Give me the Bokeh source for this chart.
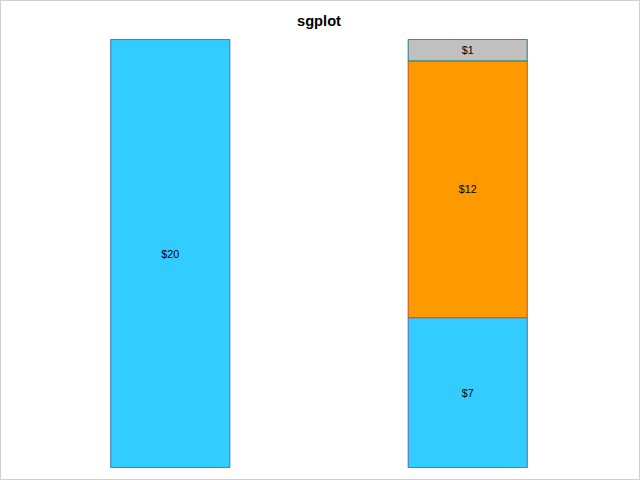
from bokeh.plotting import figure
from bokeh.models import ColumnDataSource, FactorRange, Range1d, LabelSet
from bokeh.core.properties import value
from bokeh.embed import file_html
from bokeh.resources import INLINE

# ---- data ----
categories = ["Total", "Breakdown"]
segments = ["seg1", "seg2", "seg3"]
values = {
    "seg1": [20, 7],
    "seg2": [0, 12],
    "seg3": [0, 1],
}
fill_colors = ["#33CCFF", "#FF9900", "#C0C0C0"]
line_colors = ["#4F7FBF", "#C8642A", "#3E8E84"]

p = figure(
    width=640, height=480,
    x_range=FactorRange(*categories, range_padding=0.0),
    y_range=Range1d(-0.187, 20.187),
    output_backend="svg", toolbar_location=None,
    title="sgplot",
    min_border_left=20, min_border_right=25, min_border_top=34, min_border_bottom=10,
)
p.title.align = "center"
p.title.text_font = "Liberation Sans"
p.title.text_font_size = "11pt"
p.title.text_font_style = "bold"
p.title.text_color = "black"
p.title.standoff = 14
p.axis.visible = False
p.grid.visible = False
p.outline_line_color = None
p.border_fill_color = "white"
p.styles = {"border": "1px solid #d0d0d0", "box-sizing": "border-box"}

bottoms = [0.0] * len(categories)
for seg, fc, lc in zip(segments, fill_colors, line_colors):
    vals = values[seg]
    xs, tops, bots, labels, mids = [], [], [], [], []
    for c, v, b in zip(categories, vals, bottoms):
        if v > 0:
            xs.append(c)
            bots.append(b)
            tops.append(b + v)
            mids.append(b + v / 2)
            labels.append(f"${v}")
    src = ColumnDataSource(dict(x=xs, top=tops, bottom=bots, mid=mids, label=labels))
    p.vbar(x="x", top="top", bottom="bottom", width=0.4, source=src,
           fill_color=fc, line_color=lc, line_width=1.2)
    p.add_layout(LabelSet(x="x", y="mid", text="label", source=src,
                          text_align="center", text_baseline="middle",
                          text_font=value("Liberation Sans"), text_font_size="8pt",
                          text_color="black"))
    bottoms = [b + v for b, v in zip(bottoms, vals)]

open("out.html", "w").write(file_html(p, INLINE))
